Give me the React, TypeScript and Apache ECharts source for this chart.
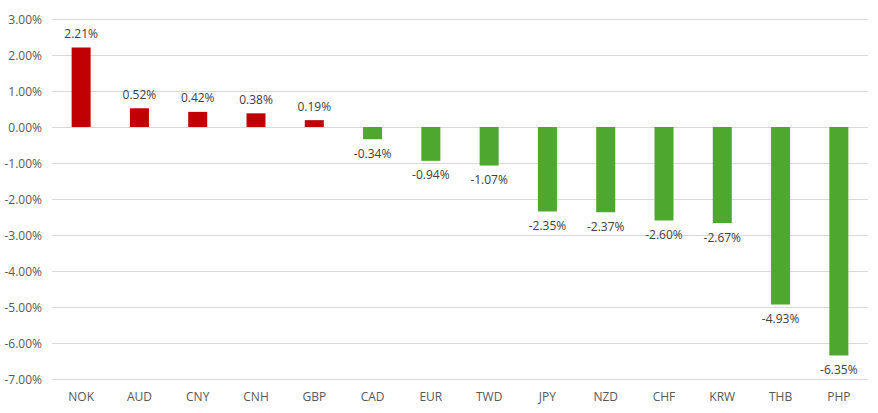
import * as echarts from 'echarts';
import { useEffect, useRef } from 'react';

const currencies = ['NOK', 'AUD', 'CNY', 'CNH', 'GBP', 'CAD', 'EUR', 'TWD', 'JPY', 'NZD', 'CHF', 'KRW', 'THB', 'PHP'];
const changes = [2.21, 0.52, 0.42, 0.38, 0.19, -0.34, -0.94, -1.07, -2.35, -2.37, -2.6, -2.67, -4.93, -6.35];

const upColor = '#c00000';
const downColor = '#4ea72e';

export default function App() {
    const chartRef = useRef<HTMLDivElement>(null);

    useEffect(() => {
        if (!chartRef.current) return;
        document.body.style.margin = '0';

        const chart = echarts.init(chartRef.current, null, { renderer: 'svg' });

        const option: echarts.EChartsOption = {
            animation: false,
            backgroundColor: '#fff',
            textStyle: { fontFamily: 'Open Sans' },
            grid: { left: 52, right: 10, top: 19, bottom: 34 },
            xAxis: {
                type: 'category',
                data: currencies,
                axisLine: { show: false },
                axisTick: { show: false },
                axisLabel: { color: '#595959', fontSize: 12, margin: 11 },
            },
            yAxis: {
                type: 'value',
                min: -7,
                max: 3,
                interval: 1,
                axisLine: { show: false },
                axisTick: { show: false },
                axisLabel: {
                    color: '#595959',
                    fontSize: 12,
                    margin: 10,
                    formatter: (v: number) => v.toFixed(2) + '%',
                },
                splitLine: { lineStyle: { color: '#d9d9d9', width: 1 } },
            },
            series: [
                {
                    type: 'bar',
                    barWidth: 19,
                    data: changes.map((v) => ({
                        value: v,
                        itemStyle: { color: v >= 0 ? upColor : downColor },
                        label: {
                            show: true,
                            position: v >= 0 ? 'top' : 'bottom',
                            distance: 8,
                            color: '#404040',
                            fontSize: 12,
                            formatter: () => v.toFixed(2) + '%',
                        },
                    })),
                },
            ],
        };

        chart.setOption(option);

        return () => {
            chart.dispose();
        };
    }, []);

    return <div ref={chartRef} style={{ width: '878px', height: '413px' }} />;
}
